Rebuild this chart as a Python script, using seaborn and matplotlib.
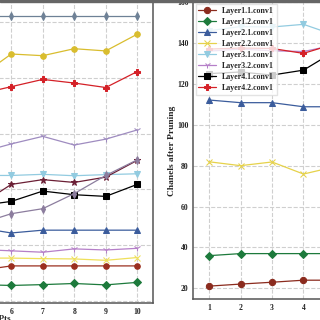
import matplotlib
matplotlib.use("Agg")
import matplotlib.pyplot as plt
import seaborn as sns
from matplotlib.patches import Rectangle

# -------- DATA --------
# left panel (only x = 5..10 is visible in the crop)
x_left = [5, 6, 7, 8, 9, 10]
left_gray_d   = [102.2, 102.2, 102.2, 102.2, 102.2, 102.2]
left_gold_o   = [80.4, 88.5, 87.9, 90.4, 89.6, 95.6]
left_red_p    = [74.2, 76.8, 79.4, 78.1, 76.5, 82.2]
left_violet_a = [53.2, 56.3, 59.0, 55.9, 58.0, 61.3]
left_cyan_v   = [45.0, 45.0, 45.4, 44.9, 45.3, 45.6]
left_maroon_s = [34.5, 41.8, 43.5, 42.5, 44.4, 50.4]
left_black_s  = [34.2, 35.7, 39.4, 38.1, 37.5, 41.8]
left_plum_d   = [27.7, 31.3, 33.1, 38.5, 45.0, 50.6]
left_blue_t   = [26.2, 24.4, 25.4, 25.4, 25.4, 25.4]
left_violet_b = [18.5, 18.0, 17.5, 18.7, 18.3, 18.9]
left_yellow_x = [15.4, 15.4, 15.2, 15.1, 14.6, 15.6]
left_dred_o   = [11.0, 12.6, 12.6, 12.6, 12.6, 12.6]
left_green_d  = [5.9, 5.6, 5.9, 6.3, 5.8, 6.7]

# right panel (only x = 1..5 is visible in the crop)
x_right = [1, 2, 3, 4, 5]
layer_names = ["Layer1.1.conv1", "Layer1.2.conv1", "Layer2.1.conv1", "Layer2.2.conv1",
               "Layer3.1.conv1", "Layer3.2.conv1", "Layer4.1.conv1", "Layer4.2.conv1"]
layer11 = [21.1, 22.1, 23.0, 24.0, 24.0]
layer12 = [36.0, 37.0, 37.0, 37.0, 37.0]
layer21 = [112.1, 110.8, 110.8, 108.8, 108.8]
layer22 = [81.9, 80.0, 81.8, 75.9, 79.5]
layer31 = [146.0, 148.0, 147.8, 149.1, 143.8]
layer32 = [136.0, 137.0, 136.2, 135.8, 139.0]
layer41 = [125.0, 125.8, 124.3, 126.7, 136.0]
layer42 = [137.0, 137.5, 137.3, 134.9, 139.6]

# -------- STYLE --------
sns.set_style("whitegrid", {"grid.linestyle": "--", "grid.color": "#cfcfcf",
                            "axes.edgecolor": "#555555"})
plt.rcParams["font.family"] = ["Liberation Serif", "DejaVu Serif"]
plt.rcParams["font.weight"] = "bold"

fig = plt.figure(figsize=(3.2, 3.2), dpi=100)
ax_l = fig.add_axes([-0.506, 0.053, 0.984, 0.944])
ax_r = fig.add_axes([0.604, 0.0656, 0.984, 0.928])

lw = 0.9
left_series = [
    (left_gray_d, "#6e8196", "d", 4),
    (left_gold_o, "#d9bd2e", "o", 4),
    (left_red_p, "#d42027", "P", 4.5),
    (left_violet_a, "#9f8cc0", "1", 5),
    (left_cyan_v, "#92cbe0", "v", 4),
    (left_maroon_s, "#6b1f35", "*", 5),
    (left_black_s, "#000000", "s", 4.5),
    (left_plum_d, "#8c7d9e", "d", 4),
    (left_blue_t, "#3b5c9c", "^", 4),
    (left_violet_b, "#b57fc8", "1", 5),
    (left_yellow_x, "#efe05a", "x", 4),
    (left_dred_o, "#9b2f1f", "o", 4),
    (left_green_d, "#1d7a3c", "D", 4),
]
for vals, col, mk, ms in left_series:
    sns.lineplot(x=x_left, y=vals, ax=ax_l, color=col, marker=mk, markersize=ms,
                 markeredgecolor=col, linewidth=lw)

right_vals = [layer11, layer12, layer21, layer22, layer31, layer32, layer41, layer42]
right_cols = ["#8b2b1e", "#1d7a3c", "#3b5c9c", "#e6d24a", "#92cbe0", "#b57fc8", "#000000", "#d42027"]
right_mks = ["o", "D", "^", "x", "v", "1", "s", "P"]
for name, vals, col, mk in zip(layer_names, right_vals, right_cols, right_mks):
    sns.lineplot(x=x_right, y=vals, ax=ax_r, color=col, marker=mk, markersize=4.5,
                 markeredgecolor=col, linewidth=lw, label=name)

# -------- AXES --------
ax_l.set_xlim(0.5, 10.5)
ax_l.set_ylim(-0.7, 107.5)
ax_l.set_xticks(range(1, 11))
ax_l.set_yticks(range(0, 101, 20))
ax_l.set_yticklabels([])
ax_l.set_xlabel("Pruning Pts", fontsize=6.5, fontweight="bold", ha="right", va="top")
ax_l.xaxis.set_label_coords((10.5 + 162) / 315, -0.038)

ax_r.set_xlim(0.5, 10.5)
ax_r.set_ylim(14.8, 160)
ax_r.set_xticks(range(1, 11))
ax_r.set_yticks(range(20, 161, 20))
ax_r.set_ylabel("Chanels after Pruning", fontsize=6.8, fontweight="bold", labelpad=1)

for ax in (ax_l, ax_r):
    ax.tick_params(labelsize=5.5, length=2, pad=1.5, colors="#222222")
    for t in ax.get_xticklabels() + ax.get_yticklabels():
        t.set_fontweight("bold")
    for sp in ax.spines.values():
        sp.set_linewidth(1.1)
        sp.set_color("#555555")

ax_r.legend(loc="upper left", bbox_to_anchor=(0.0, 1.0),
            prop={"weight": "bold", "size": 5.7}, frameon=True, framealpha=0.8,
            edgecolor="#dddddd", fancybox=False, borderaxespad=0.3,
            handlelength=2.2, labelspacing=0.38, borderpad=0.35)

fig.add_artist(Rectangle((0, 0.994), 1, 0.006, transform=fig.transFigure,
                         color="#666666", zorder=10))

fig.savefig("out.png", dpi=100)
